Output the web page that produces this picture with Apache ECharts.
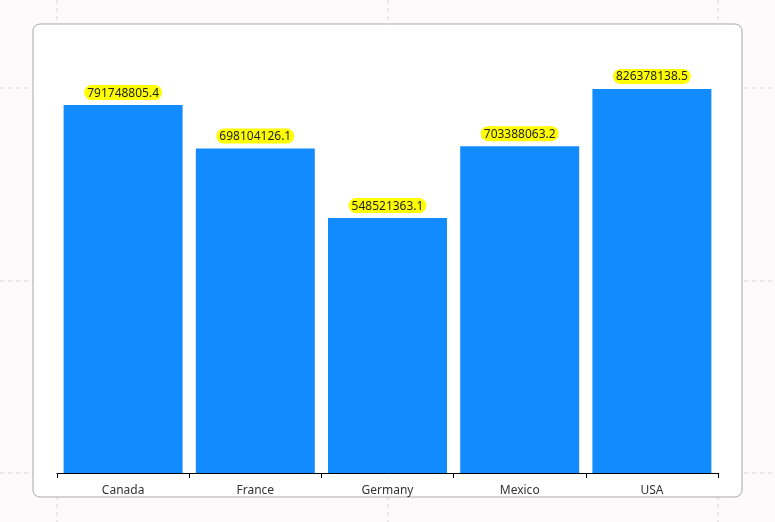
<!DOCTYPE html>
<html><head><meta charset="utf-8">
<script src="https://cdn.jsdelivr.net/npm/echarts@6/dist/echarts.min.js"></script>
<style>html,body{margin:0;padding:0;background:#fcfafb}#c{width:775px;height:522px}</style>
</head><body><div id="c"></div>
<script>
const categories = ['Canada','France','Germany','Mexico','USA'];
const values = [791748805.4, 698104126.1, 548521363.1, 703388063.2, 826378138.5];

const chart = echarts.init(document.getElementById('c'));
const dash = {stroke:'#d8d8d8', lineWidth:1, lineDash:[4,4]};
const gfx = [];
[57,388,718].forEach(x=>gfx.push({type:'line',z:-10,silent:true,shape:{x1:x,y1:0,x2:x,y2:522},style:dash}));
[88,281,473].forEach(y=>gfx.push({type:'line',z:-10,silent:true,shape:{x1:0,y1:y,x2:775,y2:y},style:dash}));
gfx.push({type:'rect',z:-5,silent:true,shape:{x:33,y:24,width:709,height:473,r:7},style:{fill:'#fff',stroke:'#a8a8a8',lineWidth:1}});
chart.setOption({
  animation:false,
  graphic:gfx,
  grid:{left:57,right:57,top:89,bottom:49},
  xAxis:{type:'category',data:categories,
    axisLine:{lineStyle:{color:'#000'}},
    axisTick:{show:true,length:5,lineStyle:{color:'#000'}},
    axisLabel:{color:'#333',fontSize:12,margin:12,fontFamily:'Segoe UI, Noto Sans, sans-serif'}},
  yAxis:{type:'value',min:0,max:826378138.5,show:false,splitLine:{show:false}},
  series:[{type:'bar',data:values,barCategoryGap:'10%',itemStyle:{color:'#128bff'},
    label:{show:true,position:'top',distance:5,color:'#222',fontSize:12,
      fontFamily:'Segoe UI, Noto Sans, sans-serif',
      backgroundColor:'#ffff00',borderRadius:8,padding:[2,3,1,3]}}]
});
</script></body></html>
